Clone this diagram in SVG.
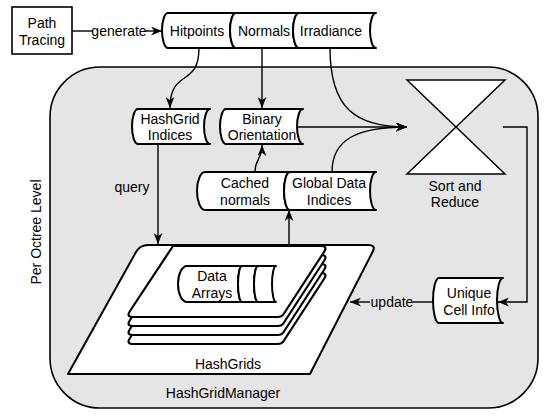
<svg xmlns="http://www.w3.org/2000/svg" width="550" height="417" viewBox="0 0 550 417">
<style>
text{font-family:"Liberation Sans",Arial,sans-serif;font-size:14px;fill:#000;text-anchor:middle}
.nd{fill:#fff;stroke:#000;stroke-width:2;stroke-linejoin:round}
.pg{fill:#fff;stroke:#000;stroke-width:2.2;stroke-linejoin:round}
.cn{fill:none;stroke:#000;stroke-width:1.4}
.arr{marker-end:url(#ah)}
</style>
<defs>
<marker id="ah" viewBox="0 0 10 8" refX="10" refY="4" markerWidth="11" markerHeight="9" markerUnits="userSpaceOnUse" orient="auto">
<path d="M0,0 L10,4 L0,8 L3,4 Z" fill="#000"/>
</marker>
</defs>
<rect width="550" height="417" fill="#fff"/>

<g id="hashgridmanager">
<rect x="50" y="67" width="488" height="341" rx="50" ry="50" fill="#e5e5e5" stroke="#000" stroke-width="1.6"/>
<text x="223" y="398">HashGridManager</text>
</g>
<text transform="translate(41,232) rotate(-90)">Per Octree Level</text>

<g id="path-tracing">
<rect x="12" y="7" width="60" height="47" fill="#fff" stroke="#000" stroke-width="1.6"/>
<text x="42" y="28">Path</text>
<text x="42" y="45">Tracing</text>
</g>

<g id="hitpoints">
<path class="nd" d="M168,13 H236 A6,17.5 0 0 0 236,48 H168 A6,17.5 0 0 1 168,13 Z"/>
<text x="197" y="36">Hitpoints</text>
</g>
<g id="normals">
<path class="nd" d="M236,13 H299 A6,17.5 0 0 0 299,48 H236 A6,17.5 0 0 1 236,13 Z"/>
<text x="264" y="36">Normals</text>
</g>
<g id="irradiance">
<path class="nd" d="M299,13 H376 A6,17.5 0 0 0 376,48 H299 A6,17.5 0 0 1 299,13 Z"/>
<text x="331" y="36">Irradiance</text>
</g>

<g id="hashgrid-indices">
<path class="nd" d="M138,109 H210 A6,17.5 0 0 0 210,144 H138 A6,17.5 0 0 1 138,109 Z"/>
<text x="170" y="124">HashGrid</text>
<text x="170" y="140">Indices</text>
</g>
<g id="binary-orientation">
<path class="nd" d="M226,109 H303 A6,17.5 0 0 0 303,144 H226 A6,17.5 0 0 1 226,109 Z"/>
<text x="262" y="124">Binary</text>
<text x="262" y="140">Orientation</text>
</g>

<g id="cached-normals">
<path class="nd" d="M205,172 H290 A6,19 0 0 0 290,210 H205 A8,19 0 0 1 205,172 Z"/>
<text x="245" y="188">Cached</text>
<text x="245" y="205">normals</text>
</g>
<g id="global-data-indices">
<path class="nd" d="M290,172 H376 A6,19 0 0 0 376,210 H290 A6,19 0 0 1 290,172 Z"/>
<text x="329" y="188">Global Data</text>
<text x="329" y="205">Indices</text>
</g>

<g id="sort-and-reduce">
<path d="M407,80 H505 L456,127 Z" fill="#fff" stroke="#000" stroke-width="1.5" stroke-linejoin="miter"/>
<path d="M456,127 L505,174 H407 Z" fill="#fff" stroke="#000" stroke-width="1.5" stroke-linejoin="miter"/>
<text x="455" y="191">Sort and</text>
<text x="455" y="207">Reduce</text>
</g>

<g id="unique-cell-info">
<path class="nd" d="M439,278 H503 A6,22.5 0 0 0 503,323 H439 A6,22.5 0 0 1 439,278 Z"/>
<text x="469" y="298">Unique</text>
<text x="469" y="315">Cell Info</text>
</g>

<g id="hashgrids">
<path class="nd" d="M148,245 H368 Q377,245 372,253 L310,374 H68 L136,252 Q140,245 148,245 Z"/>
<path class="pg" d="M173,273 H321 Q328,273 324,279 L283,342 Q281,344 278,344 H133 Q126,344 130,338 Z"/>
<path class="pg" d="M173,264 H321 Q328,264 324,270 L283,333 Q281,335 278,335 H133 Q126,335 130,329 Z"/>
<path class="pg" d="M173,255 H321 Q328,255 324,261 L283,324 Q281,326 278,326 H133 Q126,326 130,320 Z"/>
<path class="pg" d="M173,246 H321 Q328,246 324,252 L283,315 Q281,317 278,317 H133 Q126,317 130,311 Z"/>
<text x="228" y="369">HashGrids</text>
</g>

<g id="data-arrays">
<path class="nd" d="M187,266 H242 A4,18 0 0 0 242,302 H187 A9,18 0 0 1 187,266 Z"/>
<path class="nd" d="M242,266 H258 A4,18 0 0 0 258,302 H242 A4,18 0 0 1 242,266 Z"/>
<path class="nd" d="M258,266 H276 A4,18 0 0 0 276,302 H258 A4,18 0 0 1 258,266 Z"/>
<text x="212" y="281">Data</text>
<text x="212" y="298">Arrays</text>
</g>

<g id="connectors">
<path class="cn" d="M72,31 H93"/>
<path class="cn arr" d="M145,31 H162"/>
<text x="119" y="36">generate</text>
<path class="cn arr" d="M199,48 C199,88 170,68 170,108"/>
<path class="cn arr" d="M262,48 V108"/>
<path class="cn arr" d="M330,48 C330,108 355,127 407,127"/>
<path class="cn arr" d="M298,127 H407"/>
<path class="cn arr" d="M332,172 C332,140 356,127 407,127"/>
<path class="cn arr" d="M255,172 C255,158 262,160 262,145"/>
<path class="cn arr" d="M289,245 V210"/>
<path class="cn arr" d="M158,144 V244"/>
<text x="132" y="192">query</text>
<path class="cn arr" d="M503,127 H527 V302 H498"/>
<path class="cn" d="M433,302 H413"/>
<path class="cn arr" d="M370,302 H350"/>
<text x="392" y="307">update</text>
</g>
</svg>
